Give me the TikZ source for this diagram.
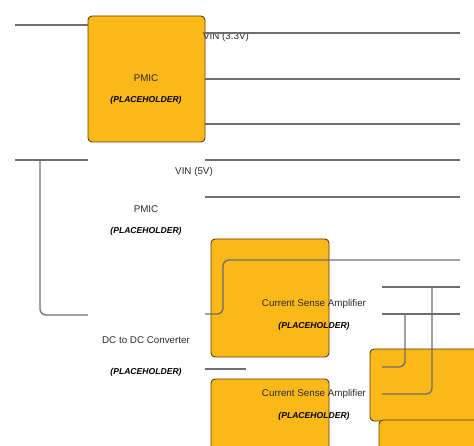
\documentclass[tikz,border=0pt]{standalone}
\usepackage{fontspec}
\setmainfont{Liberation Sans}
\begin{document}
\begin{tikzpicture}[x=1pt,y=-1pt,
  blk/.style={draw=boxedge,fill=boxfill,line width=0.9pt,rounded corners=4pt,inner sep=0pt},
  wire/.style={draw=wiregray,line width=1.3pt,rounded corners=6pt},
  lbl/.style={inner sep=0pt,text=txtgray,font=\fontsize{9.8}{11}\selectfont},
  ph/.style={inner sep=0pt,text=black,font=\fontsize{8.6}{10}\selectfont\bfseries\itshape}]
\definecolor{boxfill}{HTML}{FBB819}
\definecolor{boxedge}{HTML}{5A3D0C}
\definecolor{wiregray}{HTML}{6E6E6E}
\definecolor{txtgray}{HTML}{2A2A2A}
\useasboundingbox (0,0) rectangle (474,446);
\clip (0,0) rectangle (474,446);
% boxes
\node[blk,minimum width=117pt,minimum height=126pt] (pmic1) at (146.5,79) {};
\node[blk,minimum width=118pt,minimum height=118pt] (csa1) at (270,298) {};
\node[blk,minimum width=118pt,minimum height=100pt] (csa2) at (270,429) {};
\node[blk,minimum width=120pt,minimum height=72pt] (r1) at (430,385) {};
\node[blk,minimum width=120pt,minimum height=60pt] (r2) at (439,450) {};
% coordinates
\coordinate (a0) at (15,25);  \coordinate (a1) at (88,25);
\coordinate (b0) at (205,33); \coordinate (b1) at (460,33);
\coordinate (c0) at (205,79); \coordinate (c1) at (460,79);
\coordinate (d0) at (205,124); \coordinate (d1) at (460,124);
\coordinate (e0) at (15,160); \coordinate (e1) at (88,160);
\coordinate (f0) at (205,160); \coordinate (f1) at (460,160);
\coordinate (g0) at (205,197); \coordinate (g1) at (460,197);
\coordinate (h0) at (40,160); \coordinate (h1) at (88,315);
\coordinate (i0) at (205,314); \coordinate (i1) at (460,260);
\coordinate (j0) at (205,369); \coordinate (j1) at (246,369);
\coordinate (k0) at (382,287); \coordinate (k1) at (460,287);
\coordinate (l0) at (382,314); \coordinate (l1) at (460,314);
\coordinate (m0) at (382,367); \coordinate (m1) at (405,314);
\coordinate (n0) at (382,394); \coordinate (n1) at (432,287);
% texts
\node[lbl] (t1) at (146,78) {PMIC};
\node[ph] (p1) at (146,100) {(PLACEHOLDER)};
\node[lbl] (v1) at (226,37) {VIN (3.3V)};
\node[lbl] (v2) at (194,172) {VIN (5V)};
\node[lbl] (t2) at (146,209) {PMIC};
\node[ph] (p2) at (146,231) {(PLACEHOLDER)};
\node[lbl] (t3) at (146,340) {DC to DC Converter};
\node[ph] (p3) at (146,372) {(PLACEHOLDER)};
\node[lbl] (t4) at (314,304) {Current Sense Amplifier};
\node[ph] (p4) at (314,326) {(PLACEHOLDER)};
\node[lbl] (t5) at (314,394) {Current Sense Amplifier};
\node[ph] (p5) at (314,416) {(PLACEHOLDER)};
% wires
\draw[wire] (a0) -- (a1);
\draw[wire] (b0) -- (b1);
\draw[wire] (c0) -- (c1);
\draw[wire] (d0) -- (d1);
\draw[wire] (e0) -- (e1);
\draw[wire] (f0) -- (f1);
\draw[wire] (g0) -- (g1);
\draw[wire] (h0) |- (h1);
\draw[wire] (i0) -- (223,314) -- (223,260) -- (i1);
\draw[wire] (j0) -- (j1);
\draw[wire] (k0) -- (k1);
\draw[wire] (l0) -- (l1);
\draw[wire] (m0) -| (m1);
\draw[wire] (n0) -| (n1);
\end{tikzpicture}
\end{document}
